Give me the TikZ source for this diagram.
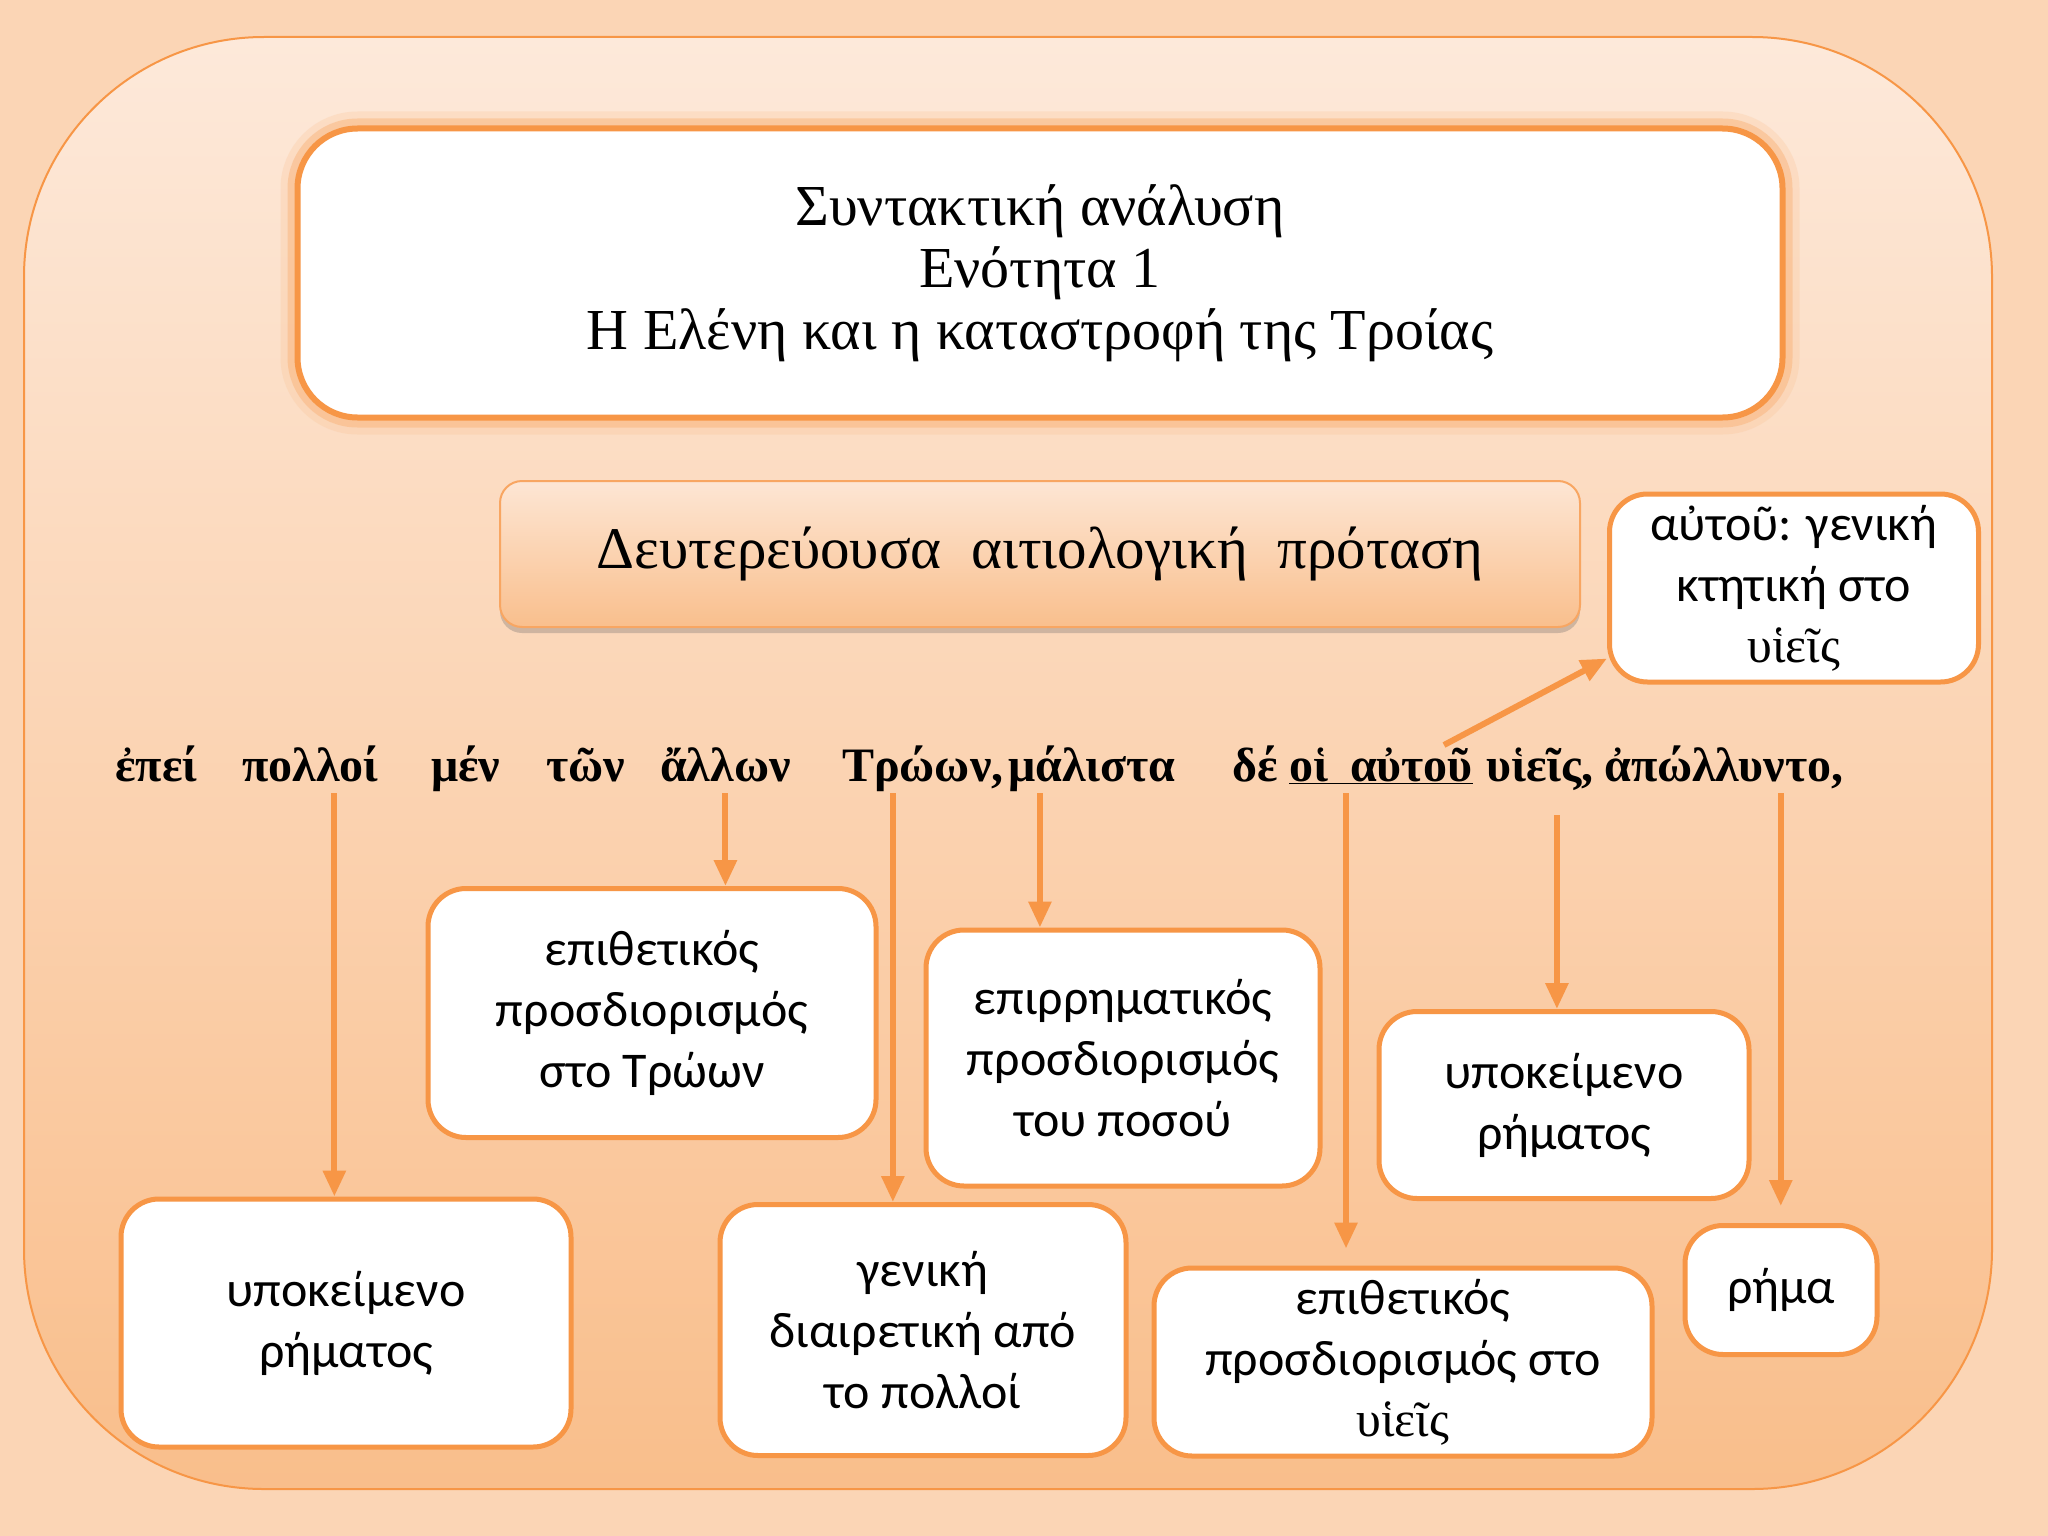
\documentclass[tikz,border=0pt]{standalone}
\usepackage{fontspec}
\setmainfont{Liberation Serif}
\newfontfamily\boxfont{Carlito}
\usetikzlibrary{arrows.meta,shadows}
\definecolor{orng}{HTML}{F79646}
\definecolor{peach}{HTML}{FBD5B5}
\definecolor{framelight}{HTML}{FDE9DA}
\definecolor{framedark}{HTML}{F9BE8B}
\definecolor{clauselight}{HTML}{FDE6D4}
\definecolor{clausedark}{HTML}{F9BF8D}
\tikzset{
  box/.style={draw=orng, line width=5pt, fill=white, rounded corners=38pt, align=center, inner sep=0pt,
    font=\boxfont\fontsize{50}{61}\selectfont},
  word/.style={anchor=base west, inner sep=0pt, text depth=12pt, font=\bfseries\fontsize{48}{58}\selectfont},
  arr/.style={draw=orng, line width=6pt, -{Triangle[width=22pt,length=26pt]}}
}
\begin{document}
\begin{tikzpicture}[x=1pt,y=-1pt]
    %% background and frame
    \useasboundingbox (0,0) rectangle (2048,1536);
    \fill[peach] (0,0) rectangle (2048,1536);
    \draw[orng, line width=2pt, rounded corners=240pt, top color=framelight, bottom color=framedark] (24,37) rectangle (1992,1489);
    %% title
    \node[box, line width=6pt, rounded corners=60pt, minimum width=1485pt, minimum height=289pt,
      font=\fontsize{58}{62}\selectfont,
      preaction={draw=orng!60, line width=34pt, opacity=.25},
      preaction={draw=orng!80, line width=20pt, opacity=.4}] (title) at (1040,273)
      {Συντακτική ανάλυση\\Ενότητα 1\\Η Ελένη και η καταστροφή της Τροίας};
    %% clause type
    \node[draw=orng!85, line width=2pt, rounded corners=22pt, top color=clauselight, bottom color=clausedark,
      drop shadow={shadow xshift=0pt, shadow yshift=-6pt, fill=black!60, opacity=.3},
      minimum width=1080pt, minimum height=146pt, inner sep=0pt, font=\fontsize{59}{66}\selectfont] (clause) at (1040,554)
      {Δευτερεύουσα\ \ αιτιολογική\ \ πρόταση};
    %% the sentence
    \node[word] (epei) at (115,781) {ἐπεί};
    \node[word] (polloi) at (242,781) {πολλοί};
    \node[word] (men) at (431,781) {μέν};
    \node[word] (ton) at (546,781) {τῶν};
    \node[word] (allon) at (660,781) {ἄλλων};
    \node[word] (troon) at (842,781) {Τρώων,};
    \node[word] (malista) at (1008,781) {μάλιστα};
    \node[word] (de) at (1232,781) {δέ};
    \node[word] (oiautou) at (1289,781) {\underline{οἱ\hspace{22pt}αὐτοῦ}};
    \node[word] (hyieis) at (1486,781) {υἱεῖς,};
    \node[word] (apollynto) at (1604,781) {ἀπώλλυντο,};
    %% boxes
    \node[box, minimum width=450pt, minimum height=248pt] (subj1) at (346,1323) {υποκείμενο\\ρήματος};
    \node[box, minimum width=448pt, minimum height=249pt] (attr1) at (652,1013) {επιθετικός\\προσδιορισμός\\στο Τρώων};
    \node[box, minimum width=406pt, minimum height=251pt] (genpart) at (923,1330) {γενική\\διαιρετική από\\το πολλοί};
    \node[box, minimum width=394pt, minimum height=256pt] (adv) at (1123,1058) {επιρρηματικός\\προσδιορισμός\\του ποσού};
    \node[box, minimum width=370pt, minimum height=187pt] (subj2) at (1564,1105) {υποκείμενο\\ρήματος};
    \node[box, minimum width=498pt, minimum height=188pt] (attr2) at (1403,1362) {επιθετικός\\προσδιορισμός στο\\{\rmfamily υἱεῖς}};
    \node[box, minimum width=192pt, minimum height=129pt] (verb) at (1781,1290) {ρήμα};
    \node[box, minimum width=369pt, minimum height=188pt] (poss) at (1794,588) {αὐτοῦ: γενική\\κτητική στο\\{\rmfamily υἱεῖς}};
    %% arrows
    \draw[arr] ([xshift=24pt]polloi.south) -- ([xshift=24pt]polloi.south |- subj1.north);
    \draw[arr] (allon.south) -- (allon.south |- attr1.north);
    \draw[arr] ([xshift=-30pt]troon.south) -- ([xshift=-30pt]troon.south |- genpart.north);
    \draw[arr] ([xshift=-52pt]malista.south) -- ([xshift=-52pt]malista.south |- adv.north);
    \draw[arr] ([xshift=57pt]oiautou.south west) -- ([xshift=57pt,yshift=17pt]oiautou.south west |- attr2.north);
    \draw[arr] ([xshift=17pt,yshift=-22pt]hyieis.south) -- ([xshift=17pt]hyieis.south |- subj2.north);
    \draw[arr] ([xshift=57pt]apollynto.south) -- ([xshift=57pt,yshift=17pt]apollynto.south |- verb.north);
    \draw[arr] ([xshift=155pt,yshift=36pt]oiautou.base west) -- ([yshift=26pt]poss.south west);
\end{tikzpicture}
\end{document}
